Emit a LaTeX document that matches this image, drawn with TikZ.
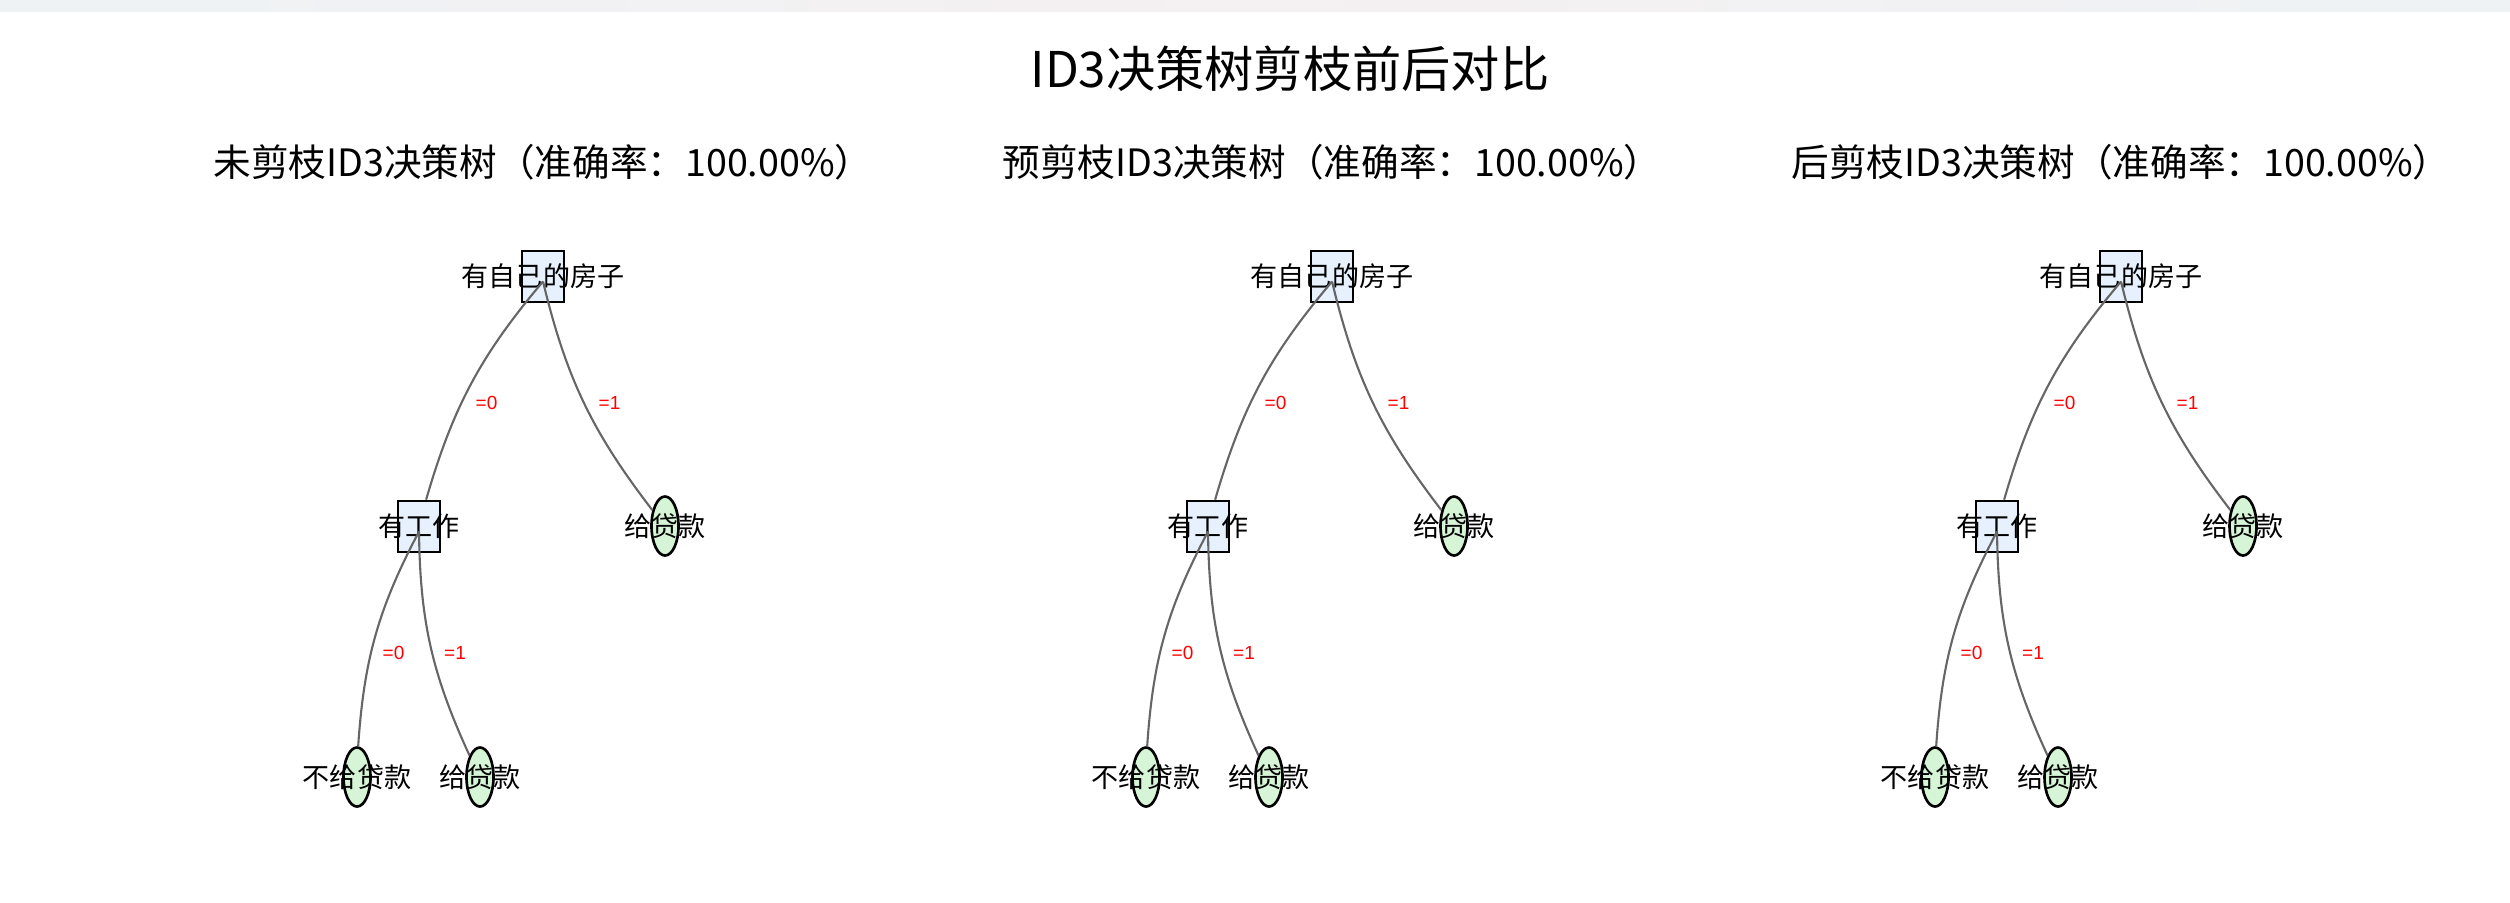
\documentclass[tikz,border=0pt]{standalone}
\usepackage{fontspec}
\setmainfont{Noto Sans CJK SC}
\newfontfamily\edgefont{Liberation Sans}
\usetikzlibrary{positioning,shapes.geometric,calc}
\definecolor{bandgray}{RGB}{238,242,245}
\definecolor{bandpink}{RGB}{245,240,241}
\definecolor{featfill}{RGB}{230,241,253}
\definecolor{leaffill}{RGB}{214,245,214}
\definecolor{edgegray}{RGB}{102,102,102}

\begin{document}
\begin{tikzpicture}[
  x=0.01cm, y=-0.01cm,
  featbox/.style={rectangle, draw=black, line width=0.75pt, fill=featfill,
                  minimum width=0.42cm, minimum height=0.51cm, inner sep=0pt},
  leafoval/.style={ellipse, draw=black, line width=0.75pt, fill=leaffill,
                   minimum width=0.27cm, minimum height=0.59cm, inner sep=0pt},
  nodetext/.style={font=\fontsize{7.7}{9}\selectfont, inner sep=0pt},
  branch/.style={draw=edgegray, line width=0.6pt},
  cond/.style={font=\edgefont\fontsize{5.4}{6}\selectfont, text=red, inner sep=0pt,
               xshift=0.055cm, yshift=-0.015cm},
  subtitle/.style={font=\fontsize{10.7}{12}\selectfont}
]
  \useasboundingbox (0,0) rectangle (2510,902);
  \shade[left color=bandgray, right color=bandgray, middle color=bandpink] (0,0) rectangle (2510,11);
  \node[font=\fontsize{14}{16}\selectfont] (title) at (1290,69) {ID3决策树剪枝前后对比};

  % three trees side by side
  \foreach \i/\kind in {0/未剪枝,1/预剪枝,2/后剪枝} {
    \pgfmathsetmacro\dx{\i*789}
    \node[subtitle] (sub\i) at (\dx+543,162) {\kind ID3决策树（准确率：100.00\%）};

    \node[featbox] (house\i) at (\dx+543,276.5) {};
    \node[featbox] (job\i) at (\dx+419,526.5) {};
    \node[leafoval] (yesA\i) at (\dx+665,526) {};
    \node[leafoval] (no\i) at (\dx+357,777) {};
    \node[leafoval] (yesB\i) at (\dx+480,777) {};

    \node[nodetext] (thouse\i) at (house\i) {有自己的房子};
    \node[nodetext] (tjob\i) at (job\i) {有工作};
    \node[nodetext] (tyesA\i) at (yesA\i) {给贷款};
    \node[nodetext] (tno\i) at (no\i) {不给贷款};
    \node[nodetext] (tyesB\i) at (yesB\i) {给贷款};

    \draw[branch] (job\i) to[bend left=12] ([yshift=-0.05cm]house\i.center);
    \draw[branch] (yesA\i) to[bend left=12] ([yshift=-0.05cm]house\i.center);
    \draw[branch] (no\i) to[bend left=12] ([yshift=-0.05cm]job\i.center);
    \draw[branch] (yesB\i) to[bend left=12] ([yshift=-0.05cm]job\i.center);

    \node[cond] (c0house\i) at ($(house\i)!0.5!(job\i)$) {=0};
    \node[cond] (c1house\i) at ($(house\i)!0.5!(yesA\i)$) {=1};
    \node[cond] (c0job\i) at ($(job\i)!0.5!(no\i)$) {=0};
    \node[cond] (c1job\i) at ($(job\i)!0.5!(yesB\i)$) {=1};
  }
\end{tikzpicture}
\end{document}
